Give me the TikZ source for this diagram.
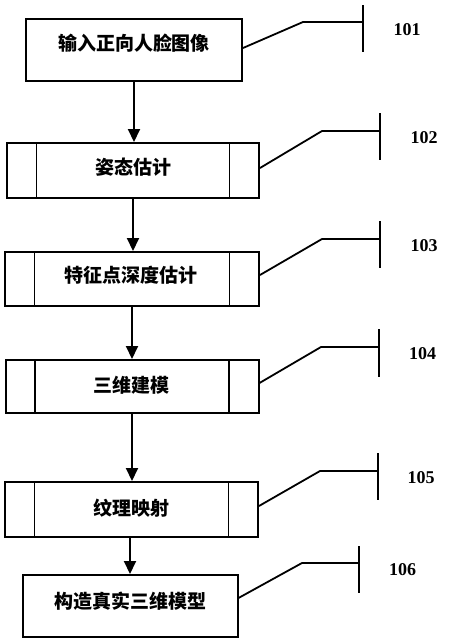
\documentclass[tikz,border=0pt]{standalone}
\usepackage{fontspec}
\newfontfamily\cjk{Noto Sans CJK SC}
\newfontfamily\numf{Liberation Serif}
\usetikzlibrary{arrows.meta}
\begin{document}
\begin{tikzpicture}[x=1pt,y=-1pt,
  box/.style={draw,line width=2pt,inner sep=0pt},
  txt/.style={font=\cjk\bfseries\fontsize{19}{19}\selectfont,inner sep=0pt},
  num/.style={font=\numf\bfseries\fontsize{18}{18}\selectfont,inner sep=0pt},
  flow/.style={line width=2pt,-{Triangle[width=12pt,length=13pt]}},
  lead/.style={line width=1.8pt},
  inner/.style={line width=1.6pt}]
\useasboundingbox (0,0) rectangle (474,643);
% boxes
\node[box,minimum width=216pt,minimum height=62pt] (b1) at (134,50) {};
\node[box,minimum width=252pt,minimum height=55pt] (b2) at (133,170.5) {};
\node[box,minimum width=254pt,minimum height=54pt] (b3) at (132,279) {};
\node[box,minimum width=253pt,minimum height=53pt] (b4) at (132,386.5) {};
\node[box,minimum width=253pt,minimum height=55pt] (b5) at (131.5,509.5) {};
\node[box,minimum width=215pt,minimum height=62pt] (b6) at (130,606) {};
% inner bars of process boxes
\foreach \b in {b2,b3,b4,b5}{
  \draw[inner] ([xshift=30.5pt]\b.north west) -- ([xshift=30.5pt]\b.south west);
  \draw[inner] ([xshift=-30.5pt]\b.north east) -- ([xshift=-30.5pt]\b.south east);
}
% texts
\node[txt] (t1) at (134,43) {输入正向人脸图像};
\node[txt] (t2) at (133,167) {姿态估计};
\node[txt] (t3) at (131,275) {特征点深度估计};
\node[txt] (t4) at (131.5,385) {三维建模};
\node[txt] (t5) at (131.5,508) {纹理映射};
\node[txt] (t6) at (130.5,601) {构造真实三维模型};
% flow arrows
\draw[flow] (b1.south) -- (b1.south |- b2.north);
\draw[flow] (b2.south) -- (b2.south |- b3.north);
\draw[flow] (b3.south) -- (b3.south |- b4.north);
\draw[flow] (b4.south) -- (b4.south |- b5.north);
\draw[flow] (b5.south -| b6.north) -- (b6.north);
% leader coordinates
\coordinate (k1) at (303,22);  \coordinate (m1) at (363,22);
\coordinate (u1) at (363,5);   \coordinate (d1) at (363,52);
\coordinate (k2) at (322,131); \coordinate (m2) at (380,131);
\coordinate (u2) at (380,113); \coordinate (d2) at (380,160);
\coordinate (k3) at (322,239); \coordinate (m3) at (380,239);
\coordinate (u3) at (380,221); \coordinate (d3) at (380,268);
\coordinate (k4) at (321,347); \coordinate (m4) at (379,347);
\coordinate (u4) at (379,329); \coordinate (d4) at (379,377);
\coordinate (k5) at (320,471); \coordinate (m5) at (378,471);
\coordinate (u5) at (378,453); \coordinate (d5) at (378,500);
\coordinate (k6) at (302,563); \coordinate (m6) at (359,563);
\coordinate (u6) at (359,546); \coordinate (d6) at (359,593);
% leaders
\draw[lead] ([yshift=2pt]b1.east) -- (k1) -- (m1);
\draw[lead] ([yshift=2.5pt]b2.east) -- (k2) -- (m2);
\draw[lead] ([yshift=4pt]b3.east) -- (k3) -- (m3);
\draw[lead] ([yshift=3.5pt]b4.east) -- (k4) -- (m4);
\draw[lead] ([yshift=3.5pt]b5.east) -- (k5) -- (m5);
\draw[lead] ([yshift=8pt]b6.east) -- (k6) -- (m6);
\foreach \i in {1,...,6}{\draw[lead] (u\i) -- (d\i);}
% labels
\node[num] (n1) at (407,30) {101};
\node[num] (n2) at (424,138) {102};
\node[num] (n3) at (424,246) {103};
\node[num] (n4) at (422.5,354) {104};
\node[num] (n5) at (421,478) {105};
\node[num] (n6) at (402.5,570) {106};
\end{tikzpicture}
\end{document}
